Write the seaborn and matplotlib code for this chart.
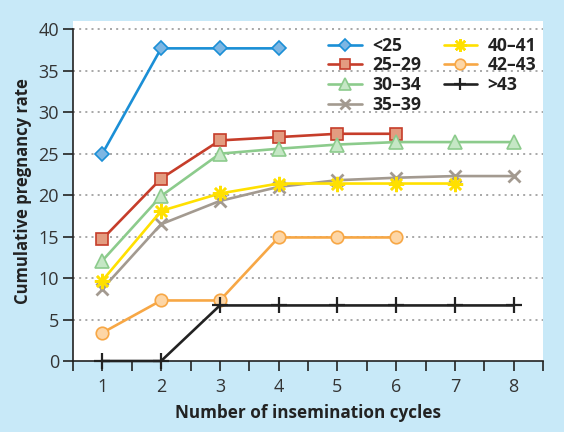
import matplotlib
matplotlib.use("Agg")
import matplotlib.pyplot as plt
import seaborn as sns
import pandas as pd
import numpy as np

# ---- data ----
cycles = [1, 2, 3, 4, 5, 6, 7, 8]
groups = ["<25", "25–29", "30–34", "35–39", "40–41", "42–43", ">43"]
rate_lt25 = [25.0, 37.7, 37.7, 37.7]
rate_25_29 = [14.7, 22.0, 26.6, 27.0, 27.4, 27.4]
rate_30_34 = [12.1, 19.9, 25.0, 25.6, 26.1, 26.4, 26.4, 26.4]
rate_35_39 = [8.7, 16.5, 19.3, 21.0, 21.8, 22.1, 22.3, 22.3]
rate_40_41 = [9.7, 18.1, 20.2, 21.4, 21.4, 21.4, 21.4]
rate_42_43 = [3.4, 7.3, 7.3, 14.9, 14.9, 14.9]
rate_gt43 = [0.0, 0.0, 6.7, 6.7, 6.7, 6.7, 6.7, 6.7]
y_ticks = [0, 5, 10, 15, 20, 25, 30, 35, 40]
x_label = "Number of insemination cycles"
y_label = "Cumulative pregnancy rate"

series = [rate_lt25, rate_25_29, rate_30_34, rate_35_39, rate_40_41, rate_42_43, rate_gt43]
rows = []
for g, vals in zip(groups, series):
    for c, v in zip(cycles, vals):
        rows.append({"group": g, "cycle": c, "rate": v})
df = pd.DataFrame(rows)

styles = {
    "<25":   dict(color="#1b8fd6", marker="D", markerfacecolor="#7db6e3", markeredgecolor="#1b8fd6", markersize=7.5),
    "25–29": dict(color="#c63d2a", marker="s", markerfacecolor="#e39c80", markeredgecolor="#c63d2a", markersize=9),
    "30–34": dict(color="#8ccb8c", marker="^", markerfacecolor="#c5e7c5", markeredgecolor="#8ccb8c", markersize=10),
    "35–39": dict(color="#a39a90", marker="x", markerfacecolor="#a39a90", markeredgecolor="#a39a90", markersize=9, markeredgewidth=2),
    "40–41": dict(color="#ffe000", marker=(8, 2, 0), markerfacecolor="#ffe000", markeredgecolor="#ffe000", markersize=11, markeredgewidth=1.8),
    "42–43": dict(color="#f7a745", marker="o", markerfacecolor="#fdd6a6", markeredgecolor="#f7a745", markersize=9),
    ">43":   dict(color="#222222", marker="+", markerfacecolor="#222222", markeredgecolor="#222222", markersize=11, markeredgewidth=1.6),
}

sns.set_style("white")
plt.rcParams["font.family"] = ["Open Sans", "DejaVu Sans"]

fig = plt.figure(figsize=(5.64, 4.32), dpi=100)
bg = "#c8e9f8"
fig.patch.set_facecolor(bg)
ax = fig.add_axes([73 / 564, (432 - 361) / 432, (543 - 73) / 564, (361 - 21) / 432])
ax.set_facecolor("white")

for g in groups:
    st = dict(styles[g])
    if "markeredgewidth" not in st:
        st["markeredgewidth"] = 1.2
    sns.lineplot(data=df[df["group"] == g], x="cycle", y="rate", ax=ax,
                 label=g, linewidth=1.9, clip_on=False, zorder=3, **st)

ax.set_xlim(0.5, 8.5)
ax.set_ylim(0, 41)
ax.set_yticks(y_ticks)
ax.set_xticks(cycles)
ax.set_xticks(np.arange(0.5, 8.6, 1.0), minor=True)
for y in y_ticks[1:]:
    ax.axhline(y, color="#9a9a9a", linestyle=(0, (1.2, 2.5)), linewidth=1.2, zorder=1)

for s in ["top", "right"]:
    ax.spines[s].set_visible(False)
for s in ["left", "bottom"]:
    ax.spines[s].set_color("#222222")
    ax.spines[s].set_linewidth(1.2)
ax.spines["left"].set_bounds(0, 40)

ax.tick_params(axis="both", which="major", direction="out", length=7, width=1.2,
               color="#222222", labelsize=13, labelcolor="#333333", bottom=True, left=True)
ax.tick_params(axis="x", which="minor", direction="out", length=7, width=1.2,
               color="#222222", bottom=True)
ax.tick_params(axis="x", pad=5)
ax.tick_params(axis="y", pad=3)

ax.set_xlabel(x_label, fontsize=12.3, fontweight="bold", color="#222222", labelpad=6)
ax.set_ylabel(y_label, fontsize=12, fontweight="bold", color="#222222", labelpad=5)

leg = ax.legend(ncol=2, loc="upper left", bbox_to_anchor=(243 / 470, 0.99),
                frameon=False, fontsize=12.6, handlelength=1.9, handletextpad=0.6,
                columnspacing=1.3, labelspacing=0.1, borderaxespad=0.3, markerscale=0.85)
for t in leg.get_texts():
    t.set_fontweight("bold")
    t.set_color("#222222")

fig.savefig("out.png", dpi=100, facecolor=bg)
